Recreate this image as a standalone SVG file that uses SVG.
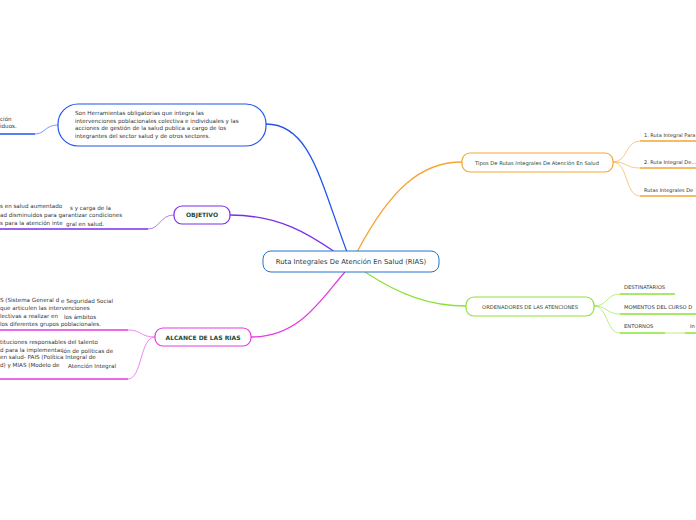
<svg xmlns="http://www.w3.org/2000/svg" width="696" height="520" viewBox="0 0 696 520">
<style>
.t{font-family:"DejaVu Sans",Verdana,sans-serif;font-size:5.6px;fill:#333}
.n{font-family:"DejaVu Sans",Verdana,sans-serif;font-size:6px;fill:#1c4a3a}
.b{font-weight:bold;font-size:6px}
</style>
<rect width="696" height="520" fill="#fff"/>
<g id="connectors" fill="none">
<path d="M266,124 C310,124 320,180 347,252" stroke="#2255ee" stroke-width="1.3"/>
<path d="M230,215 C280,215 310,235 335,252" stroke="#7a2ee8" stroke-width="1.3"/>
<path d="M251,337 C300,337 320,300 345,272" stroke="#e23be0" stroke-width="1.3"/>
<path d="M357,252 C390,190 420,162 462,162" stroke="#f5a536" stroke-width="1.3"/>
<path d="M365,272 C400,295 430,306 466,306" stroke="#8de23a" stroke-width="1.3"/>
<path d="M58,125 C45,125 45,134 35,134" stroke="#2255ee" stroke-width="0.6"/>
<path d="M0,134 H35" stroke="#2255ee" stroke-width="1.5"/>
<path d="M174,215 C160,215 160,229 148,229" stroke="#7a2ee8" stroke-width="0.6"/>
<path d="M0,229 H148" stroke="#7a2ee8" stroke-width="1.5"/>
<path d="M155,337 C140,337 142,330 128,330 M155,337 C140,337 142,379 128,379" stroke="#e23be0" stroke-width="0.6"/>
<path d="M0,330 H128 M0,379 H128" stroke="#e23be0" stroke-width="1.5"/>
<path d="M613,162 C628,162 625,141 640,141 M613,162 C628,162 625,168 640,168 M613,162 C628,162 625,196 640,196" stroke="#f5a536" stroke-width="0.6"/>
<path d="M640,141 H696 M640,168 H696 M640,196 H696" stroke="#f5a536" stroke-width="1.5"/>
<path d="M594,306 C608,306 606,294 620,294 M594,306 C608,306 606,314 620,314 M594,306 C608,306 606,333 620,333" stroke="#8de23a" stroke-width="0.6"/>
<path d="M620,294 H675 M620,314 H696 M620,333 H665 M685,333 H696" stroke="#8de23a" stroke-width="1.5"/>
<path d="M665,333 H685" stroke="#8de23a" stroke-width="0.6"/>
</g>
<g id="center"><rect x="263" y="251" width="176" height="21" rx="8" fill="#fff" stroke="#2277cc" stroke-width="1"/><text class="n" x="351" y="264" text-anchor="middle" style="font-size:6.8px;fill:#1c3a4a">Ruta Integrales De Atención En Salud (RIAS)</text></g>
<g id="def"><rect x="58" y="104" width="208" height="42" rx="20" fill="#fff" stroke="#2255ee" stroke-width="1.2"/>
<text class="t"><tspan x="75" y="115">Son Herramientas obligatorias que integra las</tspan><tspan x="75" y="123">intervenciones poblacionales colectiva e individuales y las</tspan><tspan x="75" y="130">acciones de gestión de la salud publica a cargo de los</tspan><tspan x="75" y="138">integrantes del sector salud y de otros sectores.</tspan></text></g>
<g id="def-left"><text class="t"><tspan x="0" y="121">ción</tspan><tspan x="0" y="128">iduos.</tspan></text></g>
<g id="objetivo"><rect x="174" y="206" width="56" height="18" rx="8" fill="#fff" stroke="#7a2ee8" stroke-width="1.2"/><text class="n b" x="202" y="217" text-anchor="middle">OBJETIVO</text>
<text class="t"><tspan x="0" y="208">s en salud aumentado</tspan><tspan x="70" y="210">s y carga de la</tspan><tspan x="0" y="217">ad disminuidos para garantizar condiciones</tspan><tspan x="0" y="225">s para la atención inte</tspan><tspan x="66" y="226">gral en salud.</tspan></text></g>
<g id="alcance"><rect x="155" y="328" width="96" height="18" rx="8" fill="#fff" stroke="#e23be0" stroke-width="1.2"/><text class="n b" x="203" y="340" text-anchor="middle">ALCANCE DE LAS RIAS</text>
<text class="t"><tspan x="0" y="302">S (Sistema General d</tspan><tspan x="61" y="303">e Seguridad Social</tspan><tspan x="0" y="310">que articulen las intervenciones</tspan><tspan x="0" y="318">lectivas a realizar en</tspan><tspan x="64" y="319">los ámbitos</tspan><tspan x="0" y="326">los diferentes grupos poblacionales.</tspan></text>
<text class="t"><tspan x="0" y="344">tituciones responsables del talento</tspan><tspan x="0" y="352">d para la implementac</tspan><tspan x="62" y="353">ión de políticas de</tspan><tspan x="0" y="359">en salud- PAIS (Política Integral de</tspan><tspan x="0" y="367">d) y MIAS (Modelo de</tspan><tspan x="68" y="368">Atención Integral</tspan></text></g>
<g id="tipos"><rect x="462" y="153" width="151" height="19" rx="8" fill="#fff" stroke="#f5a536" stroke-width="1.2"/><text class="n" x="537" y="165" text-anchor="middle" style="font-size:5.2px">Tipos De Rutas Integrales De Atención En Salud</text>
<text class="t" style="font-size:5px"><tspan x="644" y="137">1. Ruta Integral Para</tspan><tspan x="644" y="164">2. Ruta Integral De...</tspan><tspan x="644" y="192">Rutas Integrales De</tspan></text></g>
<g id="ordenadores"><rect x="466" y="297" width="128" height="19" rx="8" fill="#fff" stroke="#8de23a" stroke-width="1.2"/><text class="n" x="530" y="309" text-anchor="middle" style="font-size:5.2px">ORDENADORES DE LAS ATENCIONES</text>
<text class="t" style="font-size:5.2px"><tspan x="624" y="289">DESTINATARIOS</tspan><tspan x="624" y="309">MOMENTOS DEL CURSO D</tspan><tspan x="624" y="328">ENTORNOS</tspan><tspan x="690" y="328">In</tspan></text></g>
</svg>
